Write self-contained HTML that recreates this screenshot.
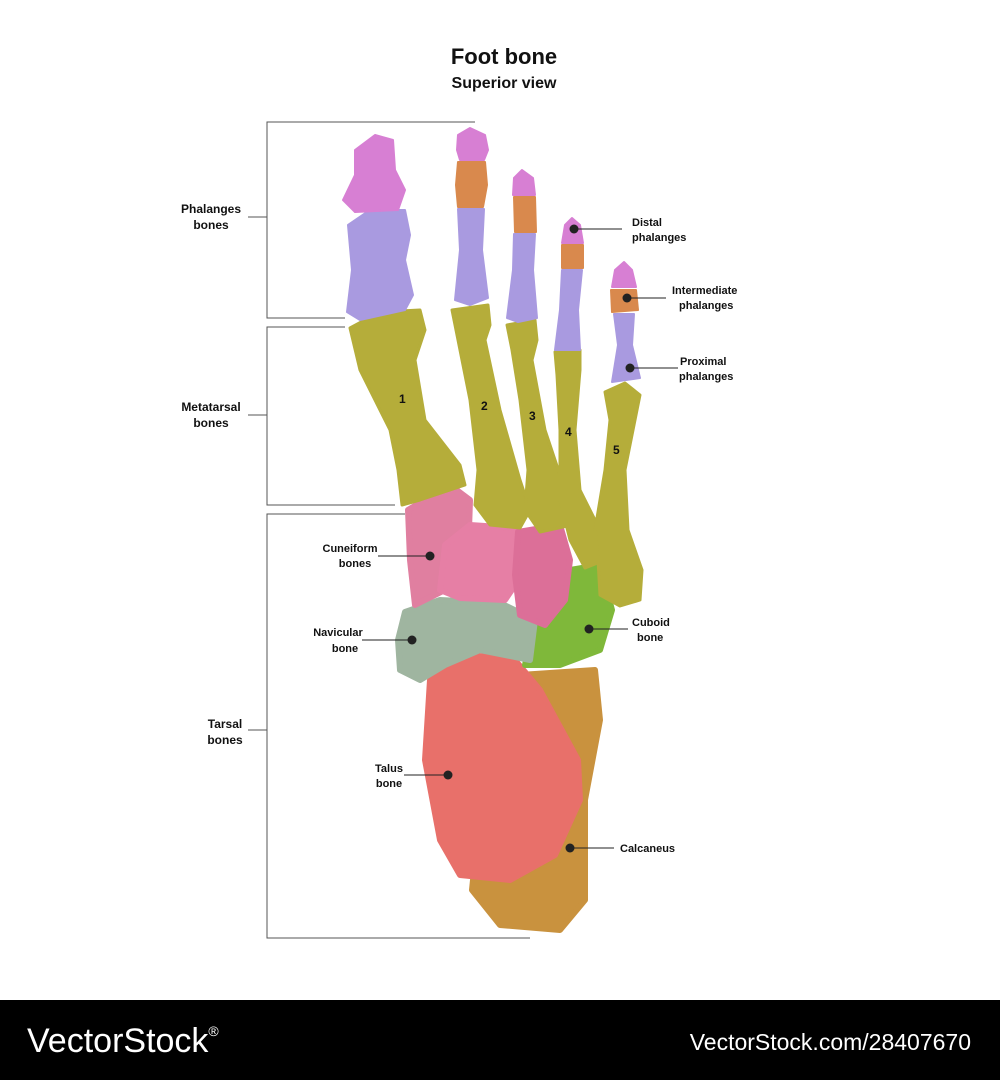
<!DOCTYPE html>
<html><head><meta charset="utf-8"><style>
html,body{margin:0;padding:0;background:#fff;width:1000px;height:1080px;overflow:hidden}
svg{display:block}
text{font-family:"Liberation Sans",sans-serif;fill:#111}
</style></head><body>
<svg width="1000" height="1080" viewBox="0 0 1000 1080" xmlns="http://www.w3.org/2000/svg">
<rect width="1000" height="1080" fill="#fff"/>
<text x="504" y="64" font-size="22" font-weight="bold" text-anchor="middle">Foot bone</text>
<text x="504" y="88" font-size="16" font-weight="bold" text-anchor="middle">Superior view</text>
<g stroke="#555" stroke-width="1" fill="none">
<polyline points="475,122 267,122 267,318 345,318"/>
<line x1="248" y1="217" x2="267" y2="217"/>
<polyline points="345,327 267,327 267,505 395,505"/>
<line x1="248" y1="415" x2="267" y2="415"/>
<polyline points="405,514 267,514 267,938 530,938"/>
<line x1="248" y1="730" x2="267" y2="730"/>
</g>
<g font-size="12" text-anchor="middle" font-weight="bold">
<text x="211" y="213">Phalanges</text><text x="211" y="229">bones</text>
<text x="211" y="411">Metatarsal</text><text x="211" y="427">bones</text>
<text x="225" y="728">Tarsal</text><text x="225" y="744">bones</text>
</g>
<g stroke-linejoin="round" stroke-width="6">
<path d="M520,675 L595,670 L600,720 L585,800 L585,900 L560,930 L500,925 L472,890 L478,830 L500,760 Z" fill="#c9923e" stroke="#c9923e"/>
<path d="M430,680 L470,655 L515,660 L540,690 L578,760 L580,800 L555,855 L510,880 L460,875 L440,840 L425,760 Z" fill="#e8706a" stroke="#e8706a"/>
<path d="M535,615 L570,570 L600,565 L612,610 L600,650 L560,665 L525,665 Z" fill="#7fb83a" stroke="#7fb83a"/>
<path d="M405,612 L440,600 L500,603 L535,620 L530,660 L480,650 L445,665 L420,680 L400,670 L398,640 Z" fill="#9fb5a0" stroke="#9fb5a0"/>
<path d="M408,510 L450,485 L470,500 L468,560 L445,590 L415,605 L410,560 Z" fill="#e07fa0" stroke="#e07fa0"/>
<path d="M445,545 L470,525 L515,528 L522,575 L505,600 L460,598 L440,590 Z" fill="#e67fa5" stroke="#e67fa5"/>
<path d="M518,532 L560,525 L570,560 L565,600 L545,625 L520,615 L515,575 Z" fill="#dc6f98" stroke="#dc6f98"/>
<g fill="#b5ad3a" stroke="#b5ad3a" stroke-width="3">
<path d="M350,328 L380,312 L420,310 L425,330 L415,360 L425,420 L460,465 L465,485 L420,500 L402,505 L398,470 L390,430 L360,370 Z"/>
<path d="M452,310 L488,305 L490,325 L485,340 L500,410 L520,480 L530,510 L520,528 L490,525 L475,505 L478,470 L470,400 L458,340 Z"/>
<path d="M507,325 L535,320 L537,340 L532,360 L545,430 L565,490 L572,525 L540,532 L525,510 L528,470 L520,400 L512,350 Z"/>
<path d="M555,352 L580,350 L580,370 L575,430 L580,490 L600,530 L605,560 L585,568 L570,540 L560,500 L560,430 L557,375 Z"/>
<path d="M605,392 L625,383 L640,395 L635,420 L625,470 L628,530 L642,570 L640,600 L620,606 L600,595 L598,560 L595,530 L605,470 L610,420 Z"/>
</g>
<g stroke-width="2">
<path d="M348,225 L370,210 L405,210 L410,235 L405,260 L413,295 L405,310 L360,320 L347,312 L352,270 Z" fill="#a99ae0" stroke="#a99ae0"/>
<path d="M355,150 L375,135 L393,140 L395,170 L405,190 L398,210 L355,212 L343,200 L355,175 Z" fill="#d77fd3" stroke="#d77fd3"/>
<path d="M458,135 L470,128 L485,135 L488,150 L484,160 L460,160 L457,150 Z" fill="#d77fd3" stroke="#d77fd3"/>
<path d="M458,162 L485,162 L487,185 L483,207 L458,207 L456,185 Z" fill="#d9894d" stroke="#d9894d"/>
<path d="M458,209 L484,209 L482,250 L488,298 L470,305 L455,300 L460,250 Z" fill="#a99ae0" stroke="#a99ae0"/>
<path d="M514,178 L522,170 L533,178 L535,195 L513,195 Z" fill="#d77fd3" stroke="#d77fd3"/>
<path d="M514,197 L535,197 L536,232 L515,232 Z" fill="#d9894d" stroke="#d9894d"/>
<path d="M514,234 L535,234 L533,270 L537,318 L518,322 L507,318 L513,270 Z" fill="#a99ae0" stroke="#a99ae0"/>
<path d="M565,225 L572,218 L580,225 L583,243 L562,243 Z" fill="#d77fd3" stroke="#d77fd3"/>
<path d="M562,245 L583,245 L583,268 L562,268 Z" fill="#d9894d" stroke="#d9894d"/>
<path d="M562,270 L582,270 L578,310 L580,350 L555,350 L560,310 Z" fill="#a99ae0" stroke="#a99ae0"/>
<path d="M615,270 L624,262 L632,270 L636,287 L612,287 Z" fill="#d77fd3" stroke="#d77fd3"/>
<path d="M611,290 L636,290 L638,310 L612,312 Z" fill="#d9894d" stroke="#d9894d"/>
<path d="M614,314 L634,314 L632,345 L640,378 L612,382 L618,345 Z" fill="#a99ae0" stroke="#a99ae0"/>
</g>
</g>
<g font-size="12" font-weight="bold">
<text x="399" y="403">1</text><text x="481" y="410">2</text><text x="529" y="420">3</text><text x="565" y="436">4</text><text x="613" y="454">5</text>
</g>
<g stroke="#222" stroke-width="1">
<line x1="574" y1="229" x2="622" y2="229"/>
<line x1="627" y1="298" x2="666" y2="298"/>
<line x1="630" y1="368" x2="678" y2="368"/>
<line x1="378" y1="556" x2="430" y2="556"/>
<line x1="362" y1="640" x2="412" y2="640"/>
<line x1="589" y1="629" x2="628" y2="629"/>
<line x1="404" y1="775" x2="448" y2="775"/>
<line x1="570" y1="848" x2="614" y2="848"/>
</g>
<g fill="#222">
<circle cx="574" cy="229" r="4.5"/><circle cx="627" cy="298" r="4.5"/><circle cx="630" cy="368" r="4.5"/>
<circle cx="430" cy="556" r="4.5"/><circle cx="412" cy="640" r="4.5"/><circle cx="589" cy="629" r="4.5"/>
<circle cx="448" cy="775" r="4.5"/><circle cx="570" cy="848" r="4.5"/>
</g>
<g font-size="11" font-weight="bold">
<text x="632" y="226">Distal</text><text x="632" y="241">phalanges</text>
<text x="672" y="294">Intermediate</text><text x="679" y="309">phalanges</text>
<text x="680" y="365">Proximal</text><text x="679" y="380">phalanges</text>
<text x="632" y="626">Cuboid</text><text x="637" y="641">bone</text>
<text x="620" y="852">Calcaneus</text>
</g>
<g font-size="11" text-anchor="middle" font-weight="bold">
<text x="350" y="552">Cuneiform</text><text x="355" y="567">bones</text>
<text x="338" y="636">Navicular</text><text x="345" y="652">bone</text>
<text x="389" y="772">Talus</text><text x="389" y="787">bone</text>
</g>
<rect x="0" y="1000" width="1000" height="80" fill="#000"/>
<text x="27" y="1052" font-size="34" style="fill:#fff">VectorStock<tspan font-size="14" dy="-16">®</tspan></text>
<text x="971" y="1050" font-size="23" text-anchor="end" style="fill:#fff">VectorStock.com/28407670</text>
</svg>
</body></html>
